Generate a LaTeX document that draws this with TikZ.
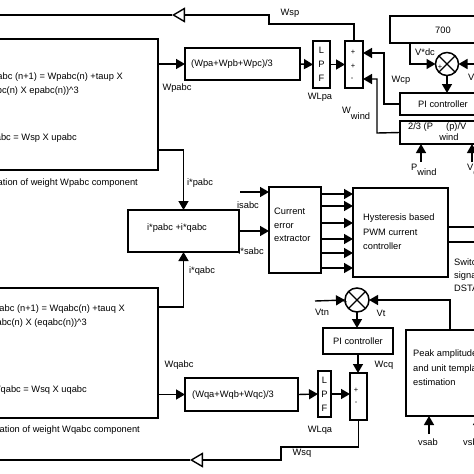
\documentclass[tikz,border=0pt]{standalone}
\usepackage{fontspec}
\setmainfont{Liberation Sans}
\usetikzlibrary{arrows.meta}
\begin{document}
\begin{tikzpicture}[x=1pt,y=-1pt,
  box/.style={draw, line width=1.5pt, inner sep=0pt, outer sep=0pt, rectangle},
  cir/.style={draw, line width=1.5pt, inner sep=0pt, outer sep=0pt, circle},
  arr/.style={line width=1.4pt, -{Triangle[length=9pt,width=10pt]}},
  oarr/.style={line width=1.4pt, -{Triangle[open,length=13pt,width=15pt,line width=1.4pt]}},
  ln/.style={line width=1.4pt},
  lbl/.style={font=\fontsize{9.3}{11}\selectfont, inner sep=0pt},
  lpf/.style={box, align=center, font=\fontsize{9.3}{14}\selectfont},
  sgn/.style={font=\fontsize{7.5}{8}\selectfont, inner sep=0pt}]
\useasboundingbox (0,0) rectangle (474,474);
\clip (0,0) rectangle (474,474);

% ---------- boxes ----------
\node[box, minimum width=218pt, minimum height=131pt] (ubox) at (49,104.5) {};
\node[box, minimum width=218pt, minimum height=130pt] (lbox) at (49,353) {};
\node[box, minimum width=115pt, minimum height=32pt] (avgp) at (242.5,64) {};
\node[lpf, minimum width=17pt, minimum height=47pt] (lpfp) at (321.5,64.5) {L\\P\\F};
\node[box, minimum width=18pt, minimum height=47pt] (sump) at (354,64.5) {};
\node[box, minimum width=110pt, minimum height=27pt] (b700) at (445,29.5) {};
\node[cir, minimum size=23pt] (c1) at (447,64) {};
\node[box, minimum width=86pt, minimum height=22pt] (pi1) at (443,104) {};
\node[box, minimum width=100pt, minimum height=23pt] (frac) at (450,132.5) {};
\node[box, lbl, minimum width=111pt, minimum height=42pt] (hub) at (183.5,231) {};
\node[box, minimum width=52pt, minimum height=86pt] (cee) at (295,230) {};
\node[box, minimum width=95pt, minimum height=89pt] (hyst) at (400.5,232.5) {};
\node[box, minimum width=72pt, minimum height=15pt] (sw) at (484,234.5) {};
\node[cir, minimum size=24pt] (c2) at (357,300) {};
\node[box, lbl, minimum width=70pt, minimum height=26pt] (pi2) at (358,341) {PI controller};
\node[box, minimum width=17pt, minimum height=47pt] (sumq) at (358.5,396.5) {};
\node[lpf, minimum width=13pt, minimum height=46pt] (lpfq) at (324.5,394) {L\\P\\F};
\node[box, minimum width=113pt, minimum height=33pt] (avgq) at (241.5,394.5) {};
\node[box, minimum width=114pt, minimum height=86pt] (peak) at (463,373) {};

% crosses in summing circles
\draw[ln] (c1.north east) -- (c1.south west) (c1.north west) -- (c1.south east);
\draw[ln] (c2.north east) -- (c2.south west) (c2.north west) -- (c2.south east);
\node[sgn] at (440,67) {+};
\node[sgn] at (345,302) {+};

% signs in sum boxes
\node[sgn] at (353,52) {+};
\node[sgn] at (353,66) {+};
\node[sgn] at (352,79) {-};
\node[sgn] at (356,390) {+};
\node[sgn] at (356,403) {-};

% ---------- texts ----------
\node[lbl, anchor=east] at (123,77) {Wpabc (n+1) = Wpabc(n) +taup X};
\node[lbl, anchor=east] at (79,91) {upabc(n) X epabc(n))\textasciicircum 3};
\node[lbl, anchor=east] at (77,138) {Wpabc = Wsp X upabc};
\node[lbl, anchor=east] at (138,183) {Calculation of weight Wpabc component};
\node[lbl, anchor=east] at (125,309) {Wqabc (n+1) = Wqabc(n) +tauq X};
\node[lbl, anchor=east] at (87,323) {uqabc(n) X (eqabc(n))\textasciicircum 3};
\node[lbl, anchor=east] at (87,390) {Wqabc = Wsq X uqabc};
\node[lbl, anchor=east] at (140,430) {Calculation of weight Wqabc component};

\node[lbl, anchor=west] at (191,64) {(Wpa+Wpb+Wpc)/3};
\node[lbl, anchor=west] at (192,395) {(Wqa+Wqb+Wqc)/3};
\node[lbl] at (443,30) {700};
\node[lbl] at (443,104) {PI controller};
\node[lbl, anchor=west] at (408,127) {2/3 (P};
\node[lbl] at (449,137) {wind};
\node[lbl, anchor=west] at (446,127) {(p)/V};
\node[lbl] at (177,228) {i*pabc +i*qabc};
\node[lbl, anchor=west, align=left, font=\fontsize{9.3}{13.5}\selectfont] at (274,225) {Current\\error\\extractor};
\node[lbl, anchor=west, align=left, font=\fontsize{9.3}{14.5}\selectfont] at (363,232) {Hysteresis based\\PWM current\\controller};
\node[lbl, anchor=west, align=left, font=\fontsize{9.3}{13}\selectfont] at (454,275) {Switching\\signals to\\DSTATCOM};
\node[lbl, anchor=west, align=left, font=\fontsize{9.3}{14.5}\selectfont] at (413,368) {Peak amplitude\\and unit template\\estimation};

\node[lbl] at (290,13) {Wsp};
\node[lbl] at (177,88) {Wpabc};
\node[lbl] at (320,97) {WLpa};
\node[lbl] at (401,80) {Wcp};
\node[lbl, anchor=base west] at (342,113.5) {W\raisebox{-6pt}{wind}};
\node[lbl] at (425,52) {V*dc};
\node[lbl, anchor=west] at (468,77) {Vdc};
\node[lbl, anchor=base west] at (411,170.5) {P\raisebox{-4.5pt}{wind}};
\node[lbl, anchor=base west] at (467,170.5) {V\raisebox{-4.5pt}{dc}};
\node[lbl] at (200,183) {i*pabc};
\node[lbl] at (202,271) {i*qabc};
\node[lbl] at (248,205) {isabc};
\node[lbl] at (251,251) {i*sabc};
\node[lbl] at (322,312) {Vtn};
\node[lbl] at (381,313) {Vt};
\node[lbl] at (384,365) {Wcq};
\node[lbl] at (179,365) {Wqabc};
\node[lbl] at (320,430) {WLqa};
\node[lbl] at (302,453) {Wsq};
\node[lbl] at (428,442) {vsab};
\node[lbl, anchor=west] at (463,442) {vsbc};

% ---------- coordinates for free ends ----------
\coordinate (wsptip) at (172,15);
\coordinate (wspend) at (-5,15);
\coordinate (wsqtip) at (190,460);
\coordinate (wsqend) at (-5,460);
\coordinate (isin) at (240,192);
\coordinate (pwin) at (421,162);
\coordinate (vdcin) at (472,162);
\coordinate (vdcr) at (490,64);
\coordinate (vtnin) at (315,301);
\coordinate (vsabin) at (429,434);
\coordinate (vsbcin) at (478,434);

% ---------- connectors ----------
\draw[oarr] (sump.north) -- (354,24) -- (269,24) -- (269,15) -- (wsptip);
\draw[ln] (wsptip) -- (wspend);
\draw[arr] (ubox.east |- avgp.west) -- (avgp.west);
\draw[arr] (avgp.east) -- (lpfp.west);
\draw[arr] (lpfp.east) -- (sump.west);
\draw[arr] (pi1.west) -- (384,104) |- (sump.east |- 0,53);
\draw[arr] (frac.west) -- (377,133) |- (sump.east |- 0,79);
\draw[arr] (b700.south -| 410,0) |- (c1.west);
\draw[arr] (vdcr) -- (c1.east);
\draw[arr] (c1.south) -- (c1.south |- pi1.north);
\draw[arr] (pwin) -- (pwin |- frac.south);
\draw[arr] (vdcin) -- (vdcin |- frac.south);

\draw[arr] (ubox.east |- 0,150) -| (hub.north);
\draw[arr] (lbox.east |- 0,307) -| (hub.south);
\draw[arr] (hub.east) -- (cee.west |- hub.east);
\draw[arr] (isin) -- (cee.west |- isin);
\foreach \yy in {194,206,223,239,253,268}
  \draw[arr] (cee.east |- 0,\yy) -- (hyst.west |- 0,\yy);

\draw[arr] (vtnin) -- (c2.west);
\draw[arr] (peak.north -| 450,0) |- (c2.east);
\draw[arr] (c2.south) -- (c2.south |- pi2.north);
\draw[arr] (pi2.south) -- (pi2.south |- sumq.north);
\draw[arr] (lbox.east |- avgq.west) -- (avgq.west);
\draw[arr] (avgq.east) -- (lpfq.west);
\draw[arr] (lpfq.east) -- (sumq.west |- lpfq.east);
\draw[oarr] (sumq.south) -- (358.5,447) -- (281,447) -- (281,460) -- (wsqtip);
\draw[ln] (wsqtip) -- (wsqend);
\draw[arr] (vsabin) -- (vsabin |- peak.south);
\draw[arr] (vsbcin) -- (vsbcin |- peak.south);
\end{tikzpicture}
\end{document}
